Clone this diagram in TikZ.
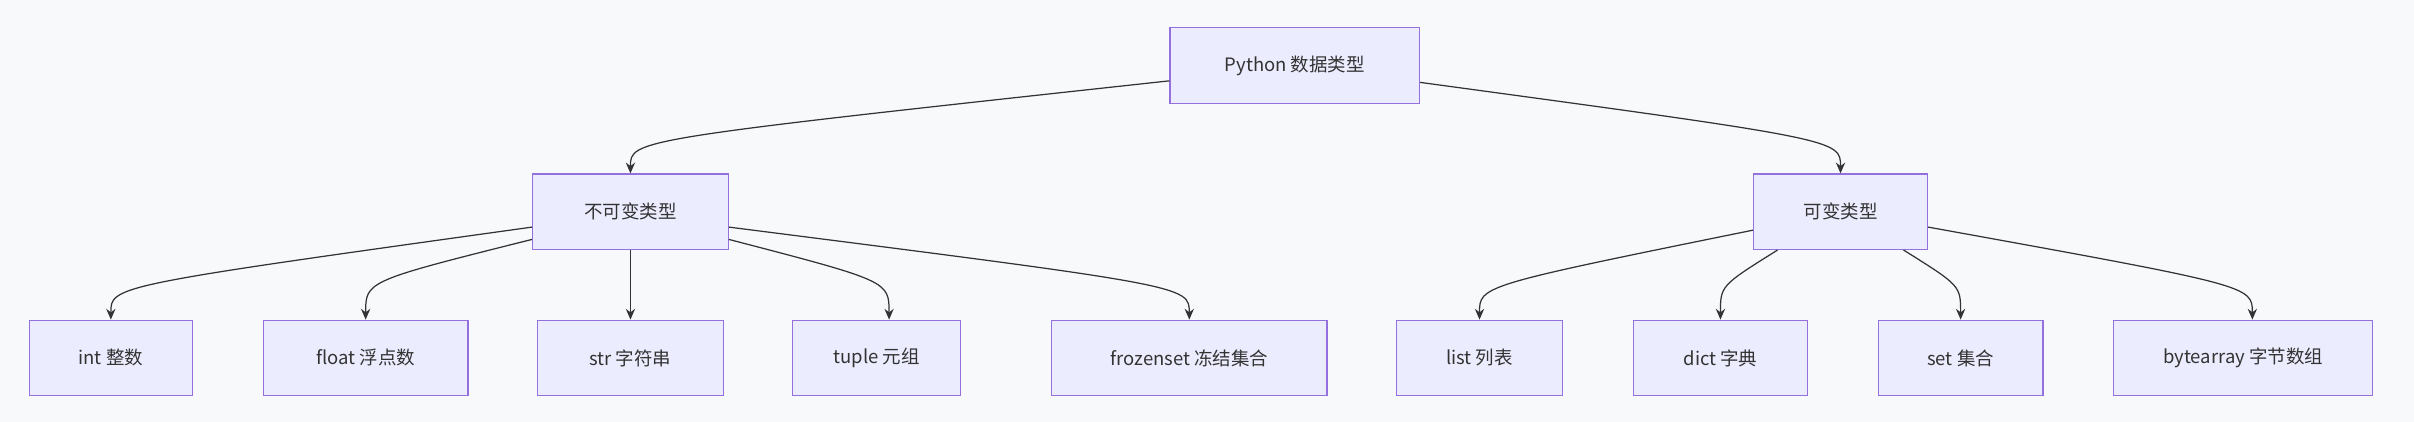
\documentclass[tikz,border=0pt]{standalone}
\usepackage{fontspec}
\setmainfont{Noto Sans CJK SC}
\usetikzlibrary{arrows.meta,calc}
\definecolor{bg}{HTML}{F8F9FB}
\definecolor{nf}{HTML}{ECECFF}
\definecolor{ns}{HTML}{9370DB}
\definecolor{ln}{HTML}{333333}
\begin{document}
\begin{tikzpicture}[x=1pt,y=-1pt,
  box/.style={draw=ns,fill=nf,line width=0.8pt,minimum height=49pt,inner sep=0pt,font=\fontsize{12}{14}\selectfont,text=ln},
  edge/.style={draw=ln,line width=0.8pt,-{Stealth[length=7pt,width=6pt]}}]
\useasboundingbox[fill=bg] (0,0) rectangle (1568,274);
\node[box,minimum width=162pt] (root) at (841,42.5) {Python 数据类型};
\node[box,minimum width=127pt] (imm) at (409.5,137.5) {不可变类型};
\node[box,minimum width=113pt] (mut) at (1195.5,137.5) {可变类型};
\node[box,minimum width=106pt] (int) at (72,232.5) {int 整数};
\node[box,minimum width=133pt] (float) at (237.5,232.5) {float 浮点数};
\node[box,minimum width=121pt] (str) at (409.5,232.5) {str 字符串};
\node[box,minimum width=109pt] (tuple) at (569.5,232.5) {tuple 元组};
\node[box,minimum width=179pt] (froz) at (772.5,232.5) {frozenset 冻结集合};
\node[box,minimum width=108pt] (list) at (961,232.5) {list 列表};
\node[box,minimum width=113pt] (dict) at (1117.5,232.5) {dict 字典};
\node[box,minimum width=107pt] (set) at (1273.5,232.5) {set 集合};
\node[box,minimum width=168pt] (byte) at (1457,232.5) {bytearray 字节数组};
\coordinate (r1) at ([yshift=-10pt]root.west);
\coordinate (r2) at ([yshift=-11pt]root.east);
\draw[edge] (r1) .. controls ($(imm.north)+(0,-22)$) .. (imm.north);
\draw[edge] (r2) .. controls ($(mut.north)+(0,-22)$) .. (mut.north);
\coordinate (i1) at ([yshift=-10pt]imm.west);
\coordinate (i2) at ([yshift=-18pt]imm.west);
\coordinate (i3) at ([yshift=-18pt]imm.east);
\coordinate (i4) at ([yshift=-10pt]imm.east);
\draw[edge] (i1) .. controls ($(int.north)+(0,-22)$) .. (int.north);
\draw[edge] (i2) .. controls ($(float.north)+(0,-25)$) .. (float.north);
\draw[edge] (imm.south) -- (str.north);
\draw[edge] (i3) .. controls ($(tuple.north)+(8,-25)$) .. ([xshift=8pt]tuple.north);
\draw[edge] (i4) .. controls ($(froz.north)+(0,-22)$) .. (froz.north);
\coordinate (m1) at ([yshift=-12pt]mut.west);
\coordinate (m2) at ([xshift=16pt]mut.south west);
\coordinate (m3) at ([xshift=-16pt]mut.south east);
\coordinate (m4) at ([yshift=-10pt]mut.east);
\draw[edge] (m1) .. controls ($(list.north)+(0,-22)$) .. (list.north);
\draw[edge] (m2) .. controls ($(dict.north)+(0,-22)$) .. (dict.north);
\draw[edge] (m3) .. controls ($(set.north)+(0,-22)$) .. (set.north);
\draw[edge] (m4) .. controls ($(byte.north)+(6,-22)$) .. ([xshift=6pt]byte.north);
\end{tikzpicture}
\end{document}
